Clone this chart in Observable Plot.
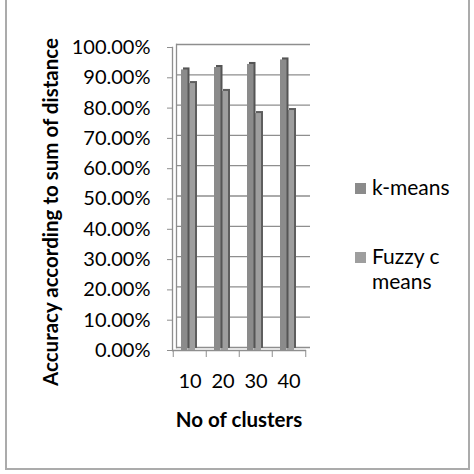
<!DOCTYPE html>
<html>
<head>
<meta charset="utf-8">
<script src="https://cdn.jsdelivr.net/npm/d3@7"></script>
<script src="https://cdn.jsdelivr.net/npm/@observablehq/plot@0.6"></script>
<style>
  html, body { margin: 0; padding: 0; background: #fff; }
  #wrap { position: relative; width: 474px; height: 474px; overflow: hidden; font-family: Lato, sans-serif; }
  #wrap svg { position: absolute; left: 0; top: 0; }
  #border { position: absolute; left: 5px; top: -3px; width: 465px; height: 473px; border: 2px solid #ababab; box-sizing: border-box; pointer-events: none; }
</style>
</head>
<body>
<div id="wrap"><div id="border"></div></div>
<script>
const clusters = ["10", "20", "30", "40"];
const kmeans = [0.926, 0.934, 0.944, 0.959];
const fuzzy = [0.881, 0.855, 0.782, 0.792];
const yTicks = [0, 0.1, 0.2, 0.3, 0.4, 0.5, 0.6, 0.7, 0.8, 0.9, 1.0];
const seriesNames = ["k-means", "Fuzzy c means"];
const seriesColors = ["#8b8b8b", "#9e9e9e"];
const xTitle = "No of clusters";
const yTitle = "Accuracy according to sum of distance";

const kData = clusters.map((c, i) => ({cluster: c, value: kmeans[i]}));
const fData = clusters.map((c, i) => ({cluster: c, value: fuzzy[i]}));

const chart = Plot.plot({
  width: 474,
  height: 474,
  marginLeft: 172,
  marginRight: 168,
  marginTop: 47,
  marginBottom: 124,
  style: {fontFamily: "Lato, sans-serif", fontSize: "20px", color: "#000", background: "transparent"},
  x: {type: "band", domain: clusters, padding: 0, label: null},
  y: {domain: [0, 1], label: null},
  marks: [
    // back wall gridlines (3D offset)
    Plot.ruleY(yTicks, {dx: 4, dy: -3, stroke: "#8e8e8e", strokeWidth: 1.3}),
    Plot.frame({anchor: "left", dx: 4, dy: -3, stroke: "#8e8e8e", strokeWidth: 1.3}),
    // front axis lines
    Plot.frame({anchor: "left", stroke: "#8e8e8e", strokeWidth: 1.3}),
    Plot.ruleY([0], {stroke: "#8e8e8e", strokeWidth: 1.3}),
    // fuzzy c means bars (behind)
    Plot.barY(fData, {x: "cluster", y: "value", fill: "#5e5e5e", insetLeft: 15, insetRight: 11, dx: 2, dy: -2}),
    Plot.barY(fData, {x: "cluster", y: "value", fill: seriesColors[1], insetLeft: 15, insetRight: 11}),
    // k-means bars (front)
    Plot.barY(kData, {x: "cluster", y: "value", fill: "#555555", insetLeft: 8, insetRight: 18.5, dx: 2, dy: -2}),
    Plot.barY(kData, {x: "cluster", y: "value", fill: seriesColors[0], insetLeft: 8, insetRight: 18.5}),
    // axes
    Plot.axisY({ticks: yTicks, tickFormat: d3.format(".2%"), tickSize: 5, tickPadding: 17, stroke: "#8e8e8e", fill: "#000", label: null, fontSize: 20}),
    Plot.axisX({tickSize: 0, tickPadding: 23, fill: "#000", label: null, fontSize: 20}),
    Plot.axisX({tickSize: 7, tickFormat: () => "", dx: -16.75, stroke: "#8e8e8e", label: null}),
    Plot.axisX(["40"], {tickSize: 7, tickFormat: () => "", dx: 16.75, stroke: "#8e8e8e", label: null})
  ]
});
const wrap = document.getElementById("wrap");
wrap.insertBefore(chart, wrap.firstChild);

// titles and legend overlay
const ov = d3.select(wrap).append("svg")
  .attr("width", 474).attr("height", 474)
  .style("pointer-events", "none")
  .style("font-family", "Lato, sans-serif");

ov.append("text")
  .attr("transform", "translate(58,212) rotate(-90)")
  .attr("text-anchor", "middle")
  .attr("font-weight", "bold").attr("font-size", 20.5)
  .text(yTitle);

ov.append("text")
  .attr("x", 239).attr("y", 427)
  .attr("text-anchor", "middle")
  .attr("font-weight", "bold").attr("font-size", 20.5)
  .text(xTitle);

const leg = [
  {name: seriesNames[0], color: seriesColors[0], y: 183, lines: ["k-means"]},
  {name: seriesNames[1], color: seriesColors[1], y: 252, lines: ["Fuzzy c", "means"]}
];
leg.forEach(l => {
  ov.append("rect").attr("x", 355).attr("y", l.y).attr("width", 11).attr("height", 11).attr("fill", l.color);
  l.lines.forEach((t, j) => {
    ov.append("text").attr("x", 372).attr("y", l.y + 12 + j * 25)
      .attr("font-size", 21).text(t);
  });
});
</script>
</body>
</html>
